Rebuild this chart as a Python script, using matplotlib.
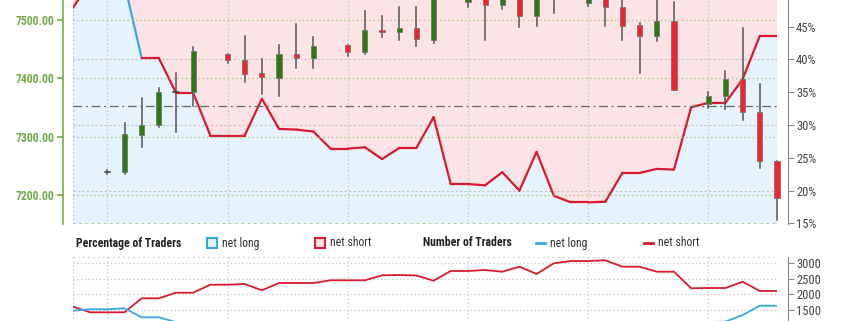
import matplotlib.pyplot as plt
import numpy as np
from matplotlib.patches import Rectangle
from matplotlib.lines import Line2D

plt.rcParams['font.family'] = ['Roboto Condensed', 'Liberation Sans Narrow', 'DejaVu Sans']
plt.rcParams['font.stretch'] = 'condensed'

nan = np.nan
days = np.arange(42)

# candles (nan = no bar)
opens = [nan, nan, 7240, 7239, 7303, 7320, 7377, 7377, nan, 7441, 7431, 7409, 7401, 7441,
         7435, nan, 7457, 7445, 7483, 7479, 7486, 7466, nan, 7530, 7552, 7526, 7548, 7507,
         7544, nan, 7529, 7548, 7523, 7491, 7473, 7499, nan, 7357, 7369, 7399, 7343, 7258]
highs = [nan, nan, 7243, 7324, 7366, 7383, 7409, 7453, nan, 7442, 7473, 7434, 7457, 7493,
         7471, nan, 7458, 7515, 7506, 7522, 7522, 7565, nan, 7560, 7566, 7560, 7556, 7550,
         7560, nan, 7560, 7562, 7550, 7494, 7540, 7530, nan, 7376, 7412, 7487, 7390, 7258]
lows = [nan, nan, 7237, 7237, 7282, 7316, 7309, 7353, nan, 7427, 7394, 7373, 7369, 7417,
        7418, nan, 7438, 7441, 7470, 7465, 7455, 7461, nan, 7523, 7465, 7519, 7488, 7490,
        7512, nan, 7524, 7490, 7466, 7409, 7464, 7380, nan, 7349, 7347, 7328, 7247, 7158]
closes = [nan, nan, 7240, 7304, 7320, 7376, 7377, 7447, nan, 7431, 7408, 7402, 7441, 7435,
          7455, nan, 7446, 7483, 7480, 7486, 7467, 7552, nan, 7548, 7526, 7546, 7507, 7540,
          7540, nan, 7545, 7523, 7490, 7473, 7498, 7380, nan, 7370, 7399, 7343, 7258, 7196]

# percentage of traders net long
pct_long = [47.9, 51.7, 51.7, 51.5, 40.2, 40.2, 34.9, 34.9, 28.4, 28.4, 28.4, 34.0, 29.4, 29.3,
            29.0, 26.4, 26.4, 26.6, 24.8, 26.5, 26.5, 31.2, 21.0, 21.0, 20.8, 22.8, 20.0, 25.9,
            19.2, 18.2, 18.2, 18.3, 22.7, 22.7, 23.3, 23.2, 32.7, 33.4, 33.4, 37.0, 43.6, 43.6]

# number of traders
short_traders = [1600, 1419, 1419, 1419, 1871, 1871, 2052, 2052, 2310, 2310, 2332, 2129, 2364, 2364,
                 2364, 2452, 2452, 2452, 2613, 2623, 2607, 2439, 2752, 2752, 2784, 2729, 2890, 2655,
                 3000, 3074, 3074, 3097, 2890, 2890, 2729, 2729, 2194, 2203, 2203, 2406, 2106, 2106]
long_traders = [1471, 1516, 1516, 1548, 1258, 1258, 1100, 1100, 916, 916, 925, 1097, 984, 980,
                966, 880, 880, 889, 862, 946, 940, 1106, 732, 732, 731, 806, 723, 928,
                713, 684, 684, 694, 849, 849, 829, 824, 1066, 1105, 1120, 1332, 1632, 1632]

current_price = 7352

RED = '#d8192f'
BLUE = '#35a8e8'
GREEN_AX = '#72ad4c'
GRID = '#c4c4c4'

fig = plt.figure(figsize=(8.45, 3.21), dpi=100)
left, width = 73 / 845, 704 / 845

ax = fig.add_axes([left, 1 - 224 / 321, width, 224 / 321])
ax2 = ax.twinx()
ax.set_zorder(ax2.get_zorder() + 1)
ax.patch.set_visible(False)

# sentiment fill + line
ax2.set_ylim(14.9, 49.07)
ax2.set_xlim(0, 41)
ax2.fill_between(days, pct_long, 0, color='#e6f3fc', lw=0)
ax2.fill_between(days, pct_long, 100, color='#fce4e6', lw=0)
for g in [20, 30, 40]:
    ax2.axhline(g, color=GRID, ls=(0, (2, 2)), lw=0.8)
for v in [2, 9, 16, 23, 30, 37]:
    ax2.axvline(v, color=GRID, ls=(0, (1, 2)), lw=0.9)
ax2.axvline(0, color='#a8c890', ls=(0, (1, 2)), lw=1)
ax2.axvline(41, color=GRID, ls=(0, (1, 2)), lw=1)
for i in range(len(days) - 1):
    c = BLUE if pct_long[i] > 50 else RED
    ax2.plot(days[i:i + 2], pct_long[i:i + 2], color=c, lw=1.6, solid_capstyle='round')
ax2.set_yticks([15, 20, 25, 30, 35, 40, 45])
ax2.set_yticklabels([f'{t}%' for t in [15, 20, 25, 30, 35, 40, 45]])
for s in ['top', 'left', 'bottom']:
    ax2.spines[s].set_visible(False)
ax2.spines['right'].set_position(('outward', 7.7))
ax2.spines['right'].set_color('#888888')
ax2.tick_params(axis='y', colors='#888888', labelcolor='#444444', labelsize=9, length=4, pad=2)

# price candles
ax.set_xlim(0, 41)
ax.set_ylim(7150.7, 7534.2)
for p in [7200, 7300, 7400, 7500]:
    ax.axhline(p, color='#a8cc88', ls=(0, (1, 2)), lw=1)
ax.axhline(7150.7, color='#a8cc88', ls=(0, (1, 2)), lw=1.5)
ax.axhline(current_price, color='#666666', ls=(0, (7, 3, 1.5, 3)), lw=0.9)

bw = 0.3
for i in days:
    o, h, l, c = opens[i], highs[i], lows[i], closes[i]
    if np.isnan(o):
        continue
    ax.plot([i, i], [l, h], color='#555555', lw=1.1, zorder=3, clip_on=False)
    if c > o:
        fc = '#2b7a0e'
    elif c < o:
        fc = '#f5222c'
    else:
        ax.plot([i - bw / 2, i + bw / 2], [o, o], color='#444444', lw=1.1, zorder=4, clip_on=False)
        continue
    ax.add_patch(Rectangle((i - bw / 2, min(o, c)), bw, abs(c - o), facecolor=fc,
                           edgecolor='#777777', lw=0.6, zorder=4, clip_on=False))

ax.set_xticks([])
ax.set_yticks([7200, 7300, 7400, 7500])
ax.set_yticklabels(['7200.00', '7300.00', '7400.00', '7500.00'])
for s in ['top', 'right', 'bottom']:
    ax.spines[s].set_visible(False)
ax.spines['left'].set_position(('outward', 7.2))
ax.spines['left'].set_color(GREEN_AX)
ax.spines['left'].set_linewidth(1.2)
ax.tick_params(axis='y', colors=GREEN_AX, labelsize=8.5, length=4, pad=2, width=1.2)
for t in ax.get_yticklabels():
    t.set_fontweight('bold')

# legend row
ly = 1 - 243 / 321
fs = 8.5
fig.text(76 / 845, ly, 'Percentage of Traders', fontsize=fs, fontweight='bold', color='#222222', va='center')
fig.patches.append(Rectangle((207 / 845, ly - 5 / 321), 10 / 845, 10 / 321, transform=fig.transFigure,
                             facecolor='#e6f3fc', edgecolor=BLUE, lw=1.5))
fig.text(222 / 845, ly, 'net long', fontsize=fs, color='#333333', va='center')
fig.patches.append(Rectangle((315.5 / 845, ly - 5 / 321), 10 / 845, 10 / 321, transform=fig.transFigure,
                             facecolor='#fce4e6', edgecolor=RED, lw=1.5))
fig.text(330 / 845, ly, 'net short', fontsize=fs, color='#333333', va='center')
fig.text(423 / 845, ly, 'Number of Traders', fontsize=fs, fontweight='bold', color='#222222', va='center')
fig.lines.append(Line2D([536 / 845, 545 / 845], [ly, ly], transform=fig.transFigure, color=BLUE, lw=2))
fig.text(550 / 845, ly, 'net long', fontsize=fs, color='#333333', va='center')
fig.lines.append(Line2D([644 / 845, 653 / 845], [ly, ly], transform=fig.transFigure, color=RED, lw=2))
fig.text(658 / 845, ly, 'net short', fontsize=fs, color='#333333', va='center')

# number of traders panel
bottom_px = 340
ax3 = fig.add_axes([left, 1 - bottom_px / 321, width, (bottom_px - 257.3) / 321])
ax3.set_xlim(0, 41)
ax3.set_ylim(3000 - (bottom_px - 263.3) * 500 / 15.5, 3000 + 6 * 500 / 15.5)
for g in [1000, 1500, 2000, 2500, 3000]:
    ax3.axhline(g, color=GRID, ls=(0, (1, 2)), lw=0.9)
ax3.axhline(ax3.get_ylim()[1], color=GRID, ls=(0, (1, 2)), lw=1.2)
for v in [0, 2, 9, 16, 23, 30, 37, 41]:
    ax3.axvline(v, color=GRID, ls=(0, (1, 2)), lw=0.9)
ax3.plot(days, short_traders, color=RED, lw=1.3)
ax3.plot(days, long_traders, color=BLUE, lw=1.3)
ax3.set_xticks([])
ax3.yaxis.tick_right()
ax3.set_yticks([1000, 1500, 2000, 2500, 3000])
for s in ['top', 'left', 'bottom']:
    ax3.spines[s].set_visible(False)
ax3.spines['right'].set_position(('outward', 7.7))
ax3.spines['right'].set_color('#888888')
ax3.tick_params(axis='y', colors='#888888', labelcolor='#444444', labelsize=9, length=4, pad=2)

fig.savefig('out.png', dpi=100)
